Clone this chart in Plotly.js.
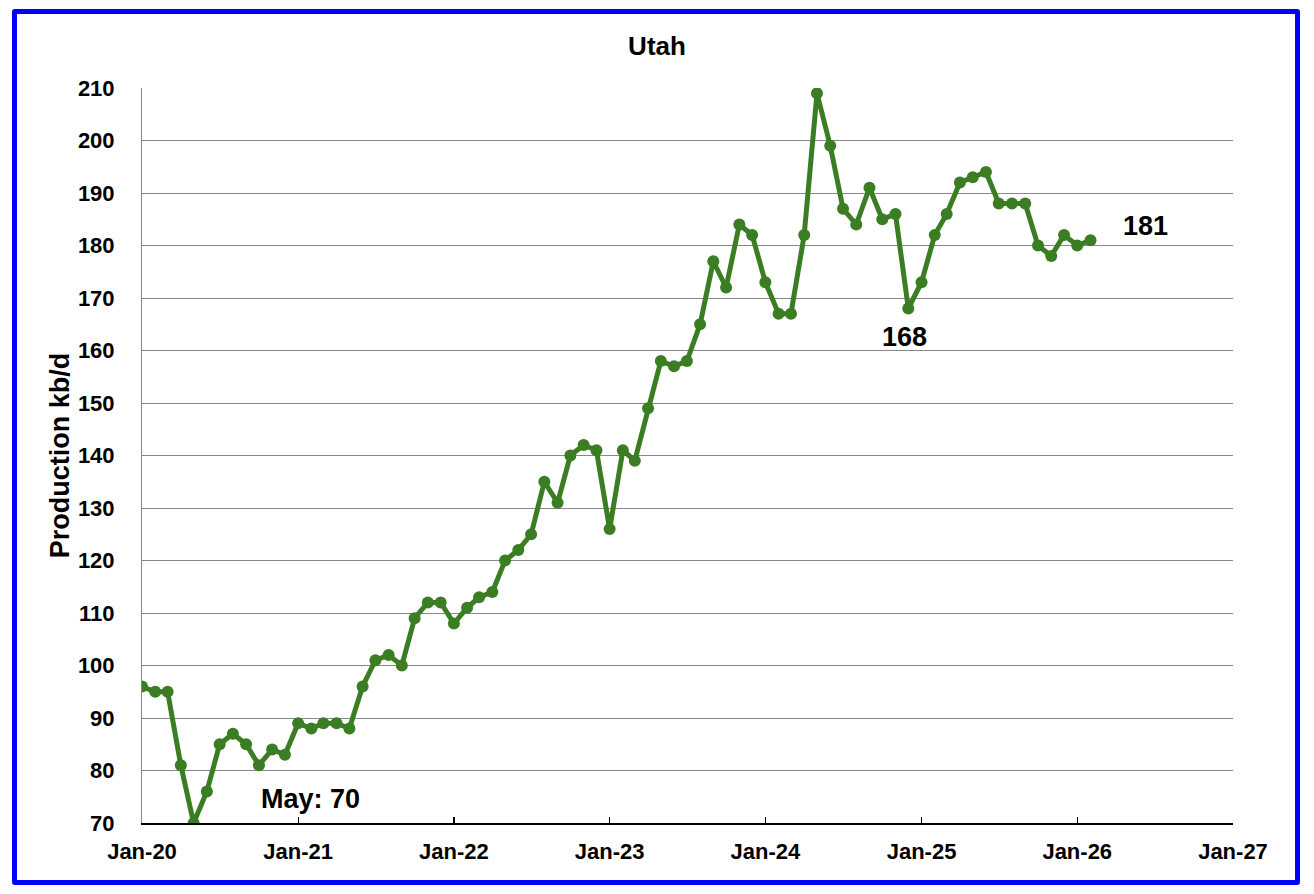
<!DOCTYPE html>
<html>
<head>
<meta charset="utf-8">
<script src="https://cdn.plot.ly/plotly-3.0.1.min.js"></script>
<style>
  body { margin: 0; background: #fff; }
  #frame { position: absolute; left: 12px; top: 9px; width: 1278px; height: 866px;
           border: 5px solid #0000ff; border-radius: 3px; pointer-events: none; }
  #chart { width: 1314px; height: 894px; }
</style>
</head>
<body>
<div id="chart"></div>
<div id="frame"></div>
<script>
// monthly Utah oil production, kb/d, Jan-20 .. Feb-26
const months = [];
for (let y = 2020; y <= 2026; y++) {
    for (let m = 1; m <= 12; m++) {
        months.push(y + '-' + String(m).padStart(2, '0') + '-01');
    }
}
const production = [
    96, 95, 95, 81, 70, 76, 85, 87, 85, 81, 84, 83,          // 2020
    89, 88, 89, 89, 88, 96, 101, 102, 100, 109, 112, 112,    // 2021
    108, 111, 113, 114, 120, 122, 125, 135, 131, 140, 142, 141, // 2022
    126, 141, 139, 149, 158, 157, 158, 165, 177, 172, 184, 182, // 2023
    173, 167, 167, 182, 209, 199, 187, 184, 191, 185, 186, 168, // 2024
    173, 182, 186, 192, 193, 194, 188, 188, 188, 180, 178, 182, // 2025
    180, 181                                                 // 2026
];
const dates = months.slice(0, production.length);

const yTicks = [70, 80, 90, 100, 110, 120, 130, 140, 150, 160, 170, 180, 190, 200, 210];

const notes = [
    { x: '2021-01-31', y: 74.6, text: 'May: 70' },
    { x: '2024-11-22', y: 162.5, text: '168' },
    { x: '2026-06-10', y: 183.7, text: '181' }
];

const green = '#3a7d22';
const fontFam = '"Liberation Sans", Arial, sans-serif';

const trace = {
    x: dates,
    y: production,
    type: 'scatter',
    mode: 'lines+markers',
    line: { color: green, width: 5 },
    marker: { color: green, size: 12 },
    hoverinfo: 'x+y'
};

const layout = {
    width: 1314,
    height: 894,
    margin: { l: 142, r: 81, t: 88, b: 71 },
    paper_bgcolor: '#ffffff',
    plot_bgcolor: '#ffffff',
    showlegend: false,
    font: { family: fontFam, color: '#000', size: 22, weight: 700 },
    title: {
        text: 'Utah',
        x: 0.5, xref: 'container',
        y: 1 - 46 / 894, yref: 'container', yanchor: 'middle',
        font: { family: fontFam, size: 26, weight: 700, color: '#000' }
    },
    xaxis: {
        type: 'date',
        range: ['2020-01-01', '2027-01-01'],
        dtick: 'M12',
        tick0: '2020-01-01',
        tickformat: '%b-%y',
        ticks: 'inside',
        ticklen: 6,
        tickcolor: '#000',
        tickwidth: 1.2,
        showline: true,
        linecolor: '#000',
        linewidth: 1.5,
        showgrid: false,
        zeroline: false,
        ticklabelstandoff: 8,
        tickfont: { family: fontFam, size: 22, weight: 700, color: '#000' }
    },
    yaxis: {
        range: [70, 210],
        tickvals: yTicks,
        ticktext: yTicks.map(String),
        ticks: '',
        showline: true,
        linecolor: '#888',
        linewidth: 1,
        showgrid: true,
        gridcolor: '#888',
        gridwidth: 1,
        zeroline: false,
        ticklabelstandoff: 22,
        tickfont: { family: fontFam, size: 22, weight: 700, color: '#000' },
        title: {
            text: 'Production kb/d',
            standoff: 0,
            font: { family: fontFam, size: 27, weight: 700, color: '#000' }
        }
    },
    annotations: notes.map(n => ({
        x: n.x, y: n.y, xref: 'x', yref: 'y',
        text: n.text, showarrow: false,
        font: { family: fontFam, size: 27, weight: 700, color: '#000' }
    }))
};

Plotly.newPlot('chart', [trace], layout, { displayModeBar: false, staticPlot: true });
</script>
</body>
</html>
